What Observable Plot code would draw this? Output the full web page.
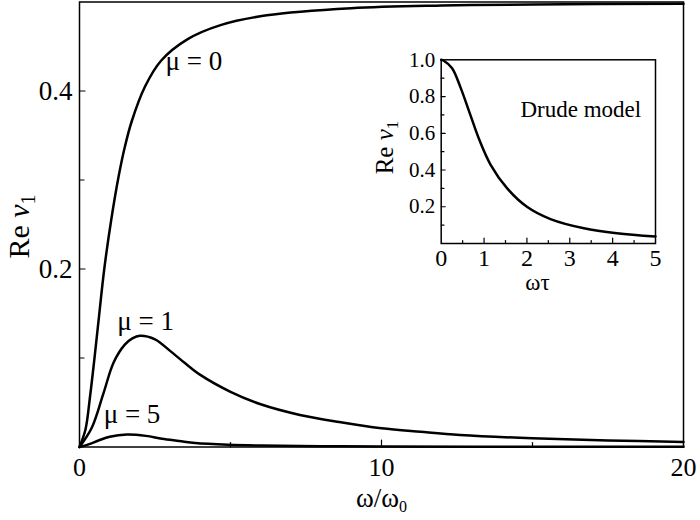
<!DOCTYPE html>
<html><head><meta charset="utf-8">
<script src="https://cdn.jsdelivr.net/npm/d3@7"></script>
<script src="https://cdn.jsdelivr.net/npm/@observablehq/plot@0.6"></script>
<style>
html,body{margin:0;padding:0;background:#fff;}
#wrap{position:relative;width:700px;height:520px;overflow:hidden;background:#fff;}
#wrap svg{position:absolute;}
</style></head><body><div id="wrap"></div>
<script>
// ---- main chart data ----
const omegaMu0 = [0, 0.2, 0.35, 0.49, 0.65, 0.82, 1.05, 1.29, 1.5, 1.73, 2.17, 2.7, 3.57, 4.67, 6.2, 9, 12, 15, 20];
const reMu0    = [0, 0.02, 0.057, 0.098, 0.148, 0.2, 0.255, 0.303, 0.337, 0.366, 0.405, 0.434, 0.458, 0.474, 0.485, 0.493, 0.496, 0.4972, 0.498];
const omegaMu1 = [0, 0.41, 0.79, 1.13, 1.5, 1.75, 2.0, 2.5, 3.0, 3.5, 4.0, 5.0, 6.0, 7.3, 8.6, 10, 11.3, 12.6, 15, 17.5, 20];
const reMu1    = [0, 0.022, 0.06, 0.095, 0.115, 0.122, 0.125, 0.121, 0.108, 0.094, 0.081, 0.062, 0.048, 0.036, 0.028, 0.021, 0.017, 0.0135, 0.0098, 0.0074, 0.0057];
const omegaMu5 = [0, 0.3, 0.63, 1.0, 1.57, 2.2, 2.73, 3.3, 3.83, 4.93, 6, 8, 10, 15, 20];
const reMu5    = [0, 0.003, 0.0073, 0.0115, 0.014, 0.0125, 0.0093, 0.0068, 0.0045, 0.0025, 0.0016, 0.0009, 0.0006, 0.0003, 0.0002];
const curveNames = ["μ = 0", "μ = 1", "μ = 5"];
const labelX = [2.85, 1.25, 0.8];
const labelY = [0.424, 0.132, 0.0267];

const mainXTickLabels = [0, 10, 20];
const mainXTicksMajor = [10];
const mainXTicksMinor = [5, 15];
const mainYTickLabels = [0.2, 0.4];
const mainYTicksMajor = [0.2, 0.4];
const mainYTicksMinor = [0.1, 0.3];

// ---- inset (Drude model) data ----
const omegaTau = [0, 0.06, 0.25, 0.45, 0.68, 0.88, 1.15, 1.54, 2.0, 2.55, 3.33, 4.1, 5];
const reDrude  = [1.0, 0.995, 0.955, 0.85, 0.7, 0.57, 0.43, 0.3, 0.2, 0.133, 0.083, 0.056, 0.038];
const insetXTickLabels = [0, 1, 2, 3, 4, 5];
const insetXTicksMajor = [1, 2, 3, 4];
const insetXTicksMinor = [0.5, 1.5, 2.5, 3.5, 4.5];
const insetYTickLabels = [0.2, 0.4, 0.6, 0.8, 1.0];
const insetYTicksMajor = [0.2, 0.4, 0.6, 0.8];
const insetYTicksMinor = [0.1, 0.3, 0.5, 0.7, 0.9];
const insetNote = "Drude model";

const FONT = "Liberation Serif";
const tickShape = {draw(ctx, l) { ctx.moveTo(0, 0); ctx.lineTo(0, -l); }};

const series = [
  ...omegaMu0.map((w, i) => ({w, v: reMu0[i], s: curveNames[0]})),
  ...omegaMu1.map((w, i) => ({w, v: reMu1[i], s: curveNames[1]})),
  ...omegaMu5.map((w, i) => ({w, v: reMu5[i], s: curveNames[2]}))
];
const labels = curveNames.map((t, i) => ({t, x: labelX[i], y: labelY[i]}));

function ticksX(vals, len) {
  return Plot.vector(vals, {x: d => d, y: 0, length: len, rotate: 0, anchor: "start", shape: tickShape, stroke: "#000", strokeWidth: 1.2});
}
function ticksY(vals, len) {
  return Plot.vector(vals, {x: 0, y: d => d, length: len, rotate: 90, anchor: "start", shape: tickShape, stroke: "#000", strokeWidth: 1.2});
}
function title(txt, dx, dy, size, rotate) {
  return Plot.text([txt], {frameAnchor: "top-left", dx, dy, rotate, textAnchor: "middle", lineAnchor: "bottom",
    fontSize: size, fontFamily: FONT, fill: "#000"});
}

const main = Plot.plot({
  width: 700, height: 520,
  marginLeft: 79, marginRight: 17, marginTop: 1.5, marginBottom: 73.5,
  x: {domain: [0, 20], label: null},
  y: {domain: [0, 0.5], label: null},
  style: {fontFamily: FONT, background: "transparent", color: "#000"},
  marks: [
    Plot.line(series, {x: "w", y: "v", z: "s", stroke: "#000", strokeWidth: 2.5, curve: "catmull-rom"}),
    ticksX(mainXTicksMajor, 7),
    ticksX(mainXTicksMinor, 4.5),
    ticksY(mainYTicksMajor, 5.5),
    ticksY(mainYTicksMinor, 4.5),
    Plot.frame({stroke: "#000", strokeWidth: 1.5}),
    Plot.axisX(mainXTickLabels, {tickSize: 0, tickPadding: 11, fontSize: 26, fontFamily: FONT, label: null, tickFormat: d => String(d), fill: "#000"}),
    Plot.axisY(mainYTickLabels, {tickSize: 0, tickPadding: 7, fontSize: 27, fontFamily: FONT, label: null, tickFormat: d3.format(".1f"), fill: "#000"}),
    Plot.text(labels, {x: "x", y: "y", text: "t", textAnchor: "start", lineAnchor: "bottom", fontSize: 27, fontFamily: FONT, fill: "#000"}),
    title("Re v1", 28 - 79, 226 - 1.5, 30, -90),
    title("ω/ω0", 381 - 79, 506 - 1.5, 27, 0)
  ]
});
main.style.left = "0px"; main.style.top = "0px";

const inset = Plot.plot({
  width: 320, height: 265,
  marginLeft: 90.7, marginRight: 15, marginTop: 29.3, marginBottom: 52,
  x: {domain: [0, 5], label: null},
  y: {domain: [0, 1], label: null},
  style: {fontFamily: FONT, background: "transparent", color: "#000"},
  marks: [
    Plot.line(omegaTau.map((w, i) => ({w, v: reDrude[i]})), {x: "w", y: "v", stroke: "#000", strokeWidth: 2.5, curve: "catmull-rom"}),
    ticksX(insetXTicksMajor, 5.5),
    ticksX(insetXTicksMinor, 3),
    ticksY(insetYTicksMajor, 4),
    ticksY(insetYTicksMinor, 2.7),
    Plot.frame({stroke: "#000", strokeWidth: 1.5}),
    Plot.axisX(insetXTickLabels, {tickSize: 0, tickPadding: 5, fontSize: 24, fontFamily: FONT, label: null, tickFormat: d => String(d), fill: "#000"}),
    Plot.axisY(insetYTickLabels, {tickSize: 0, tickPadding: 6, fontSize: 21, fontFamily: FONT, label: null, tickFormat: d3.format(".1f"), fill: "#000"}),
    Plot.text([insetNote], {x: 1.85, y: 0.686, text: d => d, textAnchor: "start", lineAnchor: "bottom", fontSize: 23, fontFamily: FONT, fill: "#000"}),
    title("Re v1", 42.7 - 90.7, 117 - 29.3, 25, -90),
    title("ωτ", 187 - 90.7, 259 - 29.3, 23, 0)
  ]
});
inset.style.left = "350px"; inset.style.top = "30px";

const wrap = document.getElementById("wrap");
wrap.appendChild(main);
wrap.appendChild(inset);

// rich formatting of the titles: italic v, subscripts
function richText(svg, plain, parts) {
  d3.select(svg).selectAll("text").filter(function() { return this.textContent === plain; }).each(function() {
    const t = d3.select(this); t.text(null);
    for (const p of parts) {
      const s = t.append("tspan").text(p.text);
      if (p.italic) s.attr("font-style", "italic");
      if (p.size) s.attr("font-size", p.size);
      if (p.dy) s.attr("dy", p.dy);
    }
  });
}
richText(main, "Re v1", [{text: "Re "}, {text: "v", italic: true}, {text: "1", size: 20, dy: 6}]);
richText(inset, "Re v1", [{text: "Re "}, {text: "v", italic: true}, {text: "1", size: 17, dy: 5}]);
richText(main, "ω/ω0", [{text: "ω/ω"}, {text: "0", size: 16, dy: 5}]);
</script>
</body></html>
